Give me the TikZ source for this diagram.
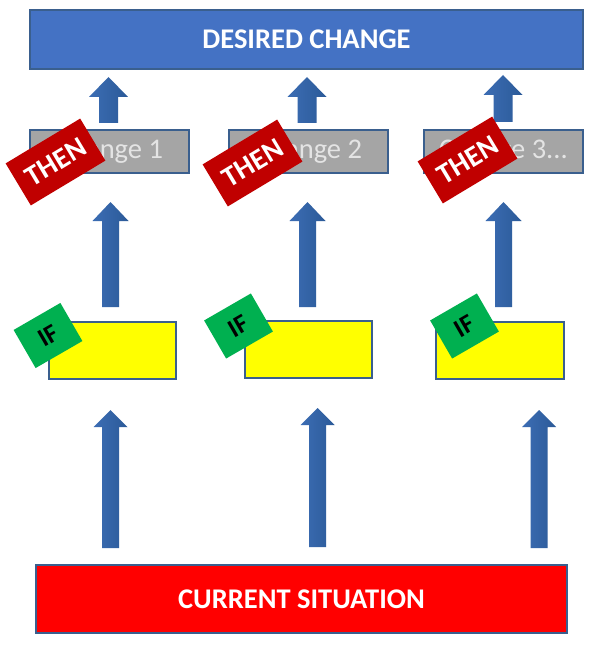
\documentclass[tikz,border=0pt]{standalone}
\usepackage{fontspec}
\setmainfont{Carlito}
\usetikzlibrary{calc}
\definecolor{topblue}{HTML}{4472C4}
\definecolor{edgeblue}{HTML}{3A5F8E}
\definecolor{boxgray}{HTML}{A5A5A5}
\definecolor{txtgray}{HTML}{E4E4E4}
\definecolor{thenred}{HTML}{C00000}
\definecolor{ifgreen}{HTML}{00B050}
\definecolor{curred}{HTML}{FF0000}
\definecolor{ifyellow}{HTML}{FFFF00}
\definecolor{arrL}{HTML}{3C6DB4}
\definecolor{arrM}{HTML}{4577C2}
\definecolor{arrR}{HTML}{2B5A98}
\newcommand\blockarrow[5]{%
  \path[arrowshade] let \p1=(#1), \p2=(#2) in
    (\x1-#3,\y1) -- (\x1-#3,\y2-#5) -- (\x1-#4,\y2-#5) -- (\x1,\y2)
    -- (\x1+#4,\y2-#5) -- (\x1+#3,\y2-#5) -- (\x1+#3,\y1) -- cycle;}
\begin{document}
\begin{tikzpicture}[x=1pt,y=-1pt,
  boxbase/.style={draw=edgeblue, line width=2pt, inner sep=0pt, outer sep=0pt},
  topbox/.style={boxbase, fill=topblue, minimum width=553pt, minimum height=59pt,
    text=white, font=\bfseries\fontsize{28.5}{30}\selectfont},
  changebox/.style={boxbase, fill=boxgray, minimum width=159pt, minimum height=43pt,
    text=txtgray, font=\fontsize{28.5}{30}\selectfont},
  ifbox/.style={boxbase, fill=ifyellow, minimum width=127pt, minimum height=57pt},
  curbox/.style={boxbase, fill=curred, minimum width=531pt, minimum height=68pt,
    text=white, font=\bfseries\fontsize{28.5}{30}\selectfont},
  thenlbl/.style={fill=thenred, minimum width=87pt, minimum height=49pt, inner sep=0pt,
    rotate=31, text=white, font=\bfseries\fontsize{29}{31}\selectfont},
  iflbl/.style={fill=ifgreen, minimum width=54pt, minimum height=44pt, inner sep=0pt,
    rotate=30, text=black, font=\bfseries\fontsize{26}{28}\selectfont},
  arrowshade/.style={left color=arrL, middle color=arrM, right color=arrR}
]
\useasboundingbox[fill=white] (0,0) rectangle (592,650);

% boxes
\node[topbox] (desired) at (306.5,39.5) {DESIRED CHANGE};
\node[changebox] (ch1) at (109.5,151.5) {Change 1};
\node[changebox] (ch2) at (308.5,151.5) {Change 2};
\node[changebox] (ch3) at (503.5,151.5) {Change 3...};
\node[ifbox] (if1) at (112.5,350.5) {};
\node[ifbox] (if2) at (308.5,349) {};
\node[ifbox, minimum width=128pt] (if3) at (500,350.5) {};
\node[curbox] (current) at (301.5,599) {CURRENT SITUATION};

% arrow end points
\coordinate (a1s) at (108.5,123); \coordinate (a1e) at (108.5,77);
\coordinate (a2s) at (307,123);   \coordinate (a2e) at (307,77);
\coordinate (a3s) at (503,122);   \coordinate (a3e) at (503,75);
\coordinate (b1s) at (110.5,307); \coordinate (b1e) at (110.5,202);
\coordinate (b2s) at (307.5,307); \coordinate (b2e) at (307.5,202);
\coordinate (b3s) at (503.5,307); \coordinate (b3e) at (503.5,202);
\coordinate (c1s) at (110.5,548); \coordinate (c1e) at (110.5,410);
\coordinate (c2s) at (317.5,547); \coordinate (c2e) at (317.5,408);
\coordinate (c3s) at (539,548);   \coordinate (c3e) at (539,410);

% block arrows
\blockarrow{a1s}{a1e}{9.5pt}{19.5pt}{20pt}
\blockarrow{a2s}{a2e}{9.5pt}{19.5pt}{20pt}
\blockarrow{a3s}{a3e}{9.5pt}{19.5pt}{20pt}
\blockarrow{b1s}{b1e}{8.5pt}{18pt}{19pt}
\blockarrow{b2s}{b2e}{8.5pt}{18pt}{19pt}
\blockarrow{b3s}{b3e}{8.5pt}{18pt}{19pt}
\blockarrow{c1s}{c1e}{8.5pt}{17pt}{17pt}
\blockarrow{c2s}{c2e}{8.5pt}{17pt}{17pt}
\blockarrow{c3s}{c3e}{8.5pt}{17pt}{17pt}

% tags
\node[thenlbl] (then1) at (55.5,162) {THEN};
\node[thenlbl] (then2) at (252.5,163) {THEN};
\node[thenlbl] (then3) at (467.5,160) {THEN};
\node[iflbl] (ifl1) at (48,335.5) {IF};
\node[iflbl] (ifl2) at (238.5,326) {IF};
\node[iflbl] (ifl3) at (464.5,326) {IF};
\end{tikzpicture}
\end{document}
